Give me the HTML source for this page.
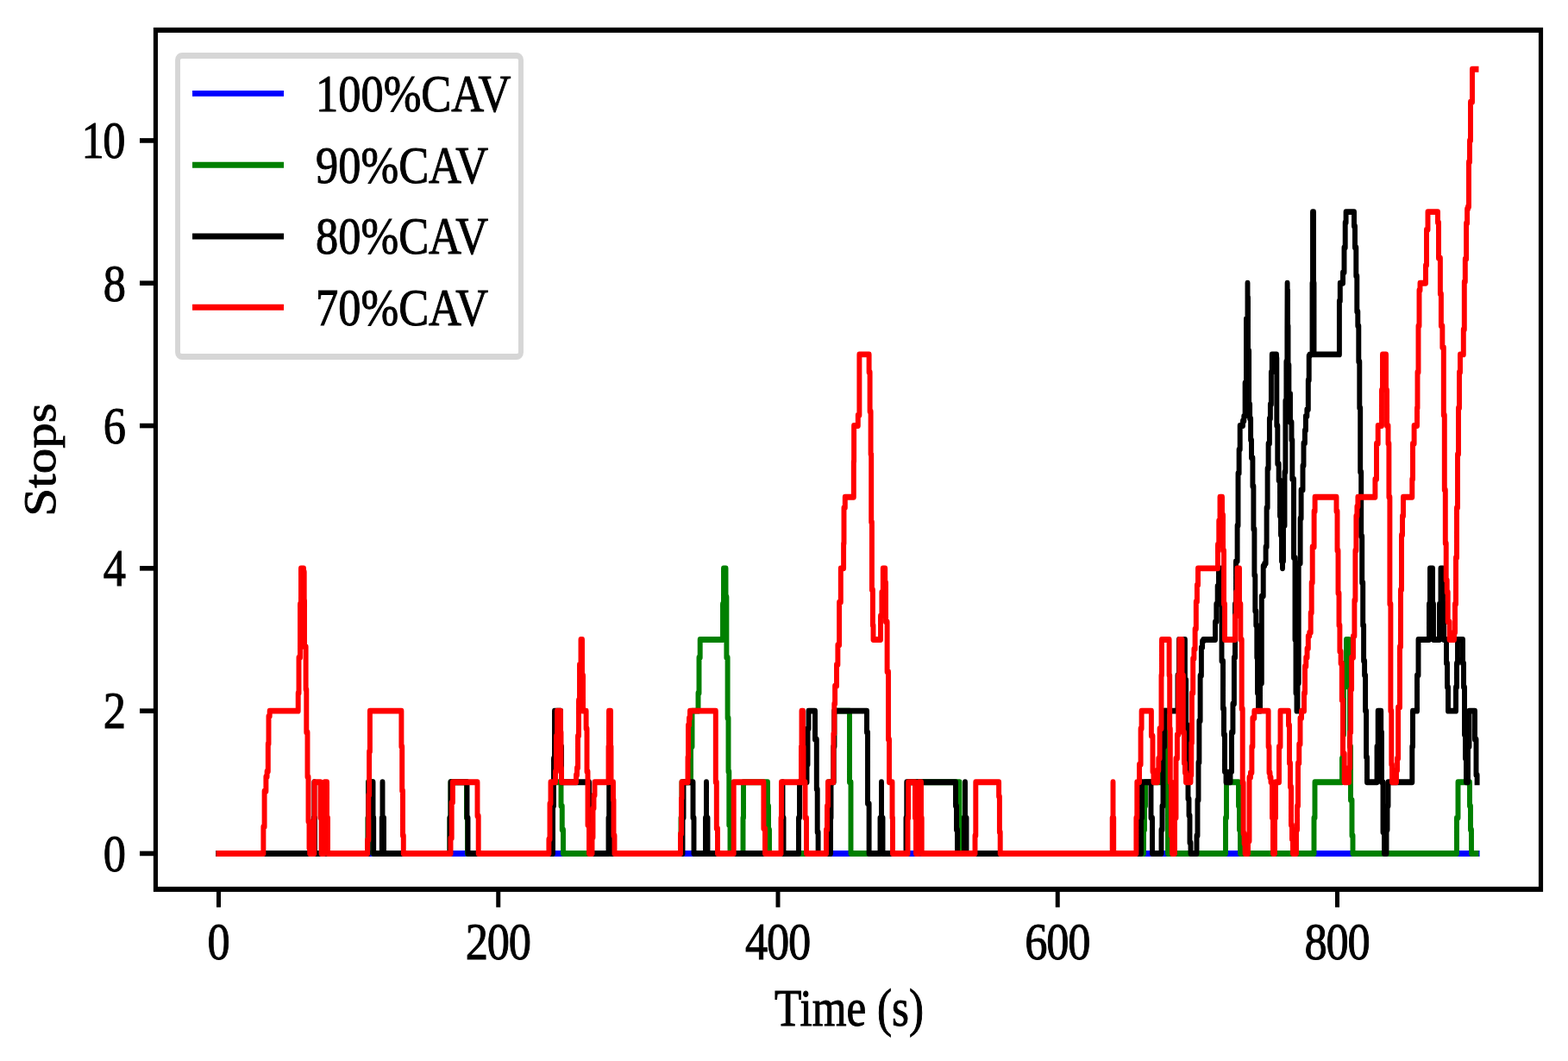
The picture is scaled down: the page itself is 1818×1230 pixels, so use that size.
<!DOCTYPE html>
<html><head><meta charset="utf-8"><title>Stops vs Time</title>
<style>html,body{margin:0;padding:0;background:#fff;overflow:hidden}svg{display:block}</style></head><body>
<svg width="1818" height="1230" viewBox="0 0 1818 1230">
<rect x="0" y="0" width="1818" height="1230" fill="#ffffff"/>
<g transform="scale(0.86,1)">
<g fill="none" stroke-width="6.9" stroke-linejoin="round" stroke-linecap="square">
<polyline stroke="#0000ff" points="294.77,989.45 1991.40,989.45"/>
<polyline stroke="#008000" points="294.77,989.45 495.93,989.45 495.93,948.12 496.51,948.12 496.51,906.80 502.33,906.80 502.33,948.12 503.49,948.12 503.49,989.45 606.40,989.45 606.40,948.12 607.56,948.12 607.56,906.80 629.07,906.80 629.07,948.12 630.23,948.12 630.23,989.45 744.19,989.45 744.19,948.12 745.35,948.12 745.35,906.80 756.40,906.80 756.40,934.35 757.85,934.35 757.85,961.90 759.30,961.90 759.30,989.45 918.02,989.45 918.02,948.12 919.19,948.12 919.19,906.80 931.40,906.80 931.40,865.48 933.14,865.48 933.14,824.15 941.28,824.15 941.28,803.49 942.44,803.49 942.44,782.83 942.44,762.16 943.84,762.16 943.84,741.50 974.42,741.50 974.42,700.17 975.58,700.17 975.58,658.85 978.49,658.85 978.49,691.91 979.53,691.91 979.53,724.97 979.53,762.16 980.93,762.16 980.93,799.36 980.93,832.42 981.98,832.42 981.98,865.48 981.98,894.40 982.91,894.40 982.91,923.33 982.91,956.39 984.30,956.39 984.30,989.45 1001.74,989.45 1001.74,948.12 1002.33,948.12 1002.33,906.80 1034.88,906.80 1034.88,934.35 1036.05,934.35 1036.05,961.90 1037.21,961.90 1037.21,989.45 1115.70,989.45 1115.70,948.12 1116.86,948.12 1116.86,906.80 1123.72,906.80 1123.72,865.48 1124.77,865.48 1124.77,824.15 1143.02,824.15 1145.35,824.15 1145.35,906.80 1147.09,906.80 1147.09,989.45 1223.26,989.45 1223.26,948.12 1224.42,948.12 1224.42,906.80 1293.60,906.80 1293.60,948.12 1295.35,948.12 1295.35,989.45 1541.86,989.45 1541.86,961.90 1543.02,961.90 1543.02,934.35 1544.19,934.35 1544.19,906.80 1566.28,906.80 1566.28,865.48 1568.02,865.48 1568.02,824.15 1572.09,824.15 1572.09,879.25 1573.26,879.25 1573.26,934.35 1574.42,934.35 1574.42,989.45 1652.33,989.45 1652.33,948.12 1653.49,948.12 1653.49,906.80 1669.77,906.80 1669.77,934.35 1670.93,934.35 1670.93,961.90 1672.09,961.90 1672.09,989.45 1771.51,989.45 1771.51,948.12 1772.67,948.12 1772.67,906.80 1809.30,906.80 1809.30,879.25 1810.47,879.25 1810.47,851.70 1811.63,851.70 1811.63,824.15 1811.63,796.60 1813.37,796.60 1813.37,769.05 1815.12,769.05 1815.12,741.50 1818.60,741.50 1818.60,782.83 1819.77,782.83 1819.77,824.15 1819.77,865.48 1820.93,865.48 1820.93,906.80 1820.93,927.46 1822.67,927.46 1822.67,948.12 1822.67,968.79 1823.84,968.79 1823.84,989.45 1963.95,989.45 1963.95,948.12 1965.70,948.12 1965.70,906.80 1981.40,906.80 1981.40,934.35 1982.56,934.35 1982.56,961.90 1983.72,961.90 1983.72,989.45 1990.12,989.45"/>
<polyline stroke="#000000" points="294.77,989.45 423.02,989.45 423.02,948.12 423.72,948.12 423.72,906.80 423.72,948.12 424.42,948.12 424.42,989.45 496.28,989.45 496.28,948.12 496.86,948.12 496.86,906.80 502.91,906.80 502.91,948.12 503.72,948.12 503.72,989.45 514.88,989.45 514.88,948.12 515.70,948.12 515.70,906.80 515.70,948.12 517.44,948.12 517.44,989.45 606.40,989.45 606.40,948.12 607.56,948.12 607.56,906.80 629.65,906.80 629.65,948.12 630.81,948.12 630.81,989.45 745.35,989.45 745.35,934.35 746.51,934.35 746.51,879.25 747.67,879.25 747.67,824.15 755.81,824.15 755.81,865.48 756.98,865.48 756.98,906.80 794.19,906.80 794.19,948.12 795.93,948.12 795.93,989.45 820.35,989.45 820.35,948.12 821.16,948.12 821.16,906.80 822.67,906.80 822.67,948.12 823.84,948.12 823.84,989.45 920.35,989.45 920.35,948.12 921.51,948.12 921.51,906.80 934.30,906.80 934.30,948.12 935.47,948.12 935.47,989.45 951.16,989.45 951.16,948.12 952.33,948.12 952.33,906.80 952.33,948.12 954.07,948.12 954.07,989.45 1054.07,989.45 1054.07,948.12 1055.23,948.12 1055.23,906.80 1055.23,948.12 1056.40,948.12 1056.40,989.45 1076.74,989.45 1076.74,948.12 1077.91,948.12 1077.91,906.80 1087.79,906.80 1087.79,886.14 1088.95,886.14 1088.95,865.48 1088.95,844.81 1090.12,844.81 1090.12,824.15 1098.84,824.15 1098.84,857.21 1100.93,857.21 1100.93,890.27 1100.93,915.07 1101.98,915.07 1101.98,939.86 1101.98,964.66 1103.02,964.66 1103.02,989.45 1119.77,989.45 1119.77,948.12 1120.35,948.12 1120.35,906.80 1123.84,906.80 1123.84,865.48 1124.77,865.48 1124.77,824.15 1168.60,824.15 1168.60,848.95 1169.77,848.95 1169.77,873.74 1169.77,931.60 1171.63,931.60 1171.63,989.45 1186.63,989.45 1186.63,948.12 1188.37,948.12 1188.37,906.80 1188.37,948.12 1190.12,948.12 1190.12,989.45 1221.51,989.45 1221.51,948.12 1222.44,948.12 1222.44,906.80 1288.37,906.80 1288.37,934.35 1289.53,934.35 1289.53,961.90 1290.70,961.90 1290.70,989.45 1300.00,989.45 1300.00,948.12 1301.16,948.12 1301.16,906.80 1301.16,948.12 1302.91,948.12 1302.91,989.45 1538.37,989.45 1538.37,948.12 1539.53,948.12 1539.53,906.80 1551.74,906.80 1551.74,948.12 1553.49,948.12 1553.49,989.45 1565.70,989.45 1565.70,961.90 1566.86,961.90 1566.86,934.35 1568.02,934.35 1568.02,906.80 1568.02,865.48 1569.88,865.48 1569.88,824.15 1587.79,824.15 1587.79,782.83 1589.53,782.83 1589.53,741.50 1597.56,741.50 1597.56,766.30 1597.56,788.20 1598.95,788.20 1598.95,810.10 1598.95,840.27 1600.35,840.27 1600.35,870.43 1600.35,888.62 1601.74,888.62 1601.74,906.80 1601.74,926.09 1602.91,926.09 1602.91,945.37 1604.07,945.37 1604.07,964.66 1604.07,977.05 1605.23,977.05 1605.23,989.45 1613.37,989.45 1613.37,968.79 1614.53,968.79 1614.53,948.12 1614.53,927.46 1615.70,927.46 1615.70,906.80 1615.70,884.07 1616.74,884.07 1616.74,861.34 1616.74,835.72 1618.14,835.72 1618.14,810.10 1618.14,783.24 1619.65,783.24 1619.65,756.38 1619.65,750.59 1621.05,750.59 1621.05,744.81 1621.05,743.15 1622.44,743.15 1622.44,741.50 1638.37,741.50 1638.37,720.84 1639.92,720.84 1639.92,700.17 1641.47,700.17 1641.47,679.51 1643.02,679.51 1643.02,658.85 1645.35,658.85 1645.35,700.17 1647.09,700.17 1647.09,741.50 1647.09,766.30 1648.84,766.30 1648.84,791.09 1648.84,821.39 1650.00,821.39 1650.00,851.70 1651.16,851.70 1651.16,882.00 1651.16,894.40 1652.91,894.40 1652.91,906.80 1658.72,906.80 1658.72,894.40 1660.47,894.40 1660.47,882.00 1660.47,848.95 1662.15,848.95 1662.15,815.88 1663.84,815.88 1663.84,782.83 1663.84,762.16 1665.12,762.16 1665.12,741.50 1665.12,700.17 1666.28,700.17 1666.28,658.85 1666.28,650.59 1668.14,650.59 1668.14,642.32 1668.14,609.26 1669.19,609.26 1669.19,576.20 1669.19,548.65 1670.47,548.65 1670.47,521.10 1671.74,521.10 1671.74,493.55 1675.58,493.55 1675.58,488.04 1677.09,488.04 1677.09,482.53 1678.60,482.53 1678.60,477.02 1678.60,443.96 1680.23,443.96 1680.23,410.90 1680.23,369.58 1681.98,369.58 1681.98,328.25 1681.98,344.78 1682.56,344.78 1682.56,361.31 1682.56,406.77 1683.84,406.77 1683.84,452.23 1683.84,468.75 1685.00,468.75 1685.00,485.28 1686.16,485.28 1686.16,501.81 1686.16,510.08 1687.21,510.08 1687.21,518.35 1687.21,530.74 1688.84,530.74 1688.84,543.14 1688.84,563.80 1690.00,563.80 1690.00,584.46 1690.00,613.39 1691.16,613.39 1691.16,642.32 1691.16,667.12 1692.21,667.12 1692.21,691.91 1692.21,708.44 1693.37,708.44 1693.37,724.97 1694.53,724.97 1694.53,741.50 1694.53,762.16 1695.35,762.16 1695.35,782.83 1695.35,803.49 1696.51,803.49 1696.51,824.15 1698.84,824.15 1698.84,791.92 1700.93,791.92 1700.93,759.68 1700.93,723.32 1700.93,691.08 1703.14,691.08 1703.14,658.85 1703.14,656.10 1704.83,656.10 1704.83,653.34 1706.51,653.34 1706.51,650.59 1706.51,634.06 1707.67,634.06 1707.67,617.53 1707.67,588.60 1708.84,588.60 1708.84,559.67 1708.84,543.14 1710.00,543.14 1710.00,526.61 1710.00,514.21 1711.51,514.21 1711.51,501.81 1711.51,485.28 1712.67,485.28 1712.67,468.75 1713.84,468.75 1713.84,452.23 1713.84,431.56 1714.88,431.56 1714.88,410.90 1720.93,410.90 1720.93,415.03 1721.28,415.03 1721.28,419.16 1721.28,468.75 1721.28,493.55 1722.44,493.55 1722.44,518.35 1722.44,537.63 1724.01,537.63 1724.01,556.91 1725.58,556.91 1725.58,576.20 1725.58,598.24 1726.74,598.24 1726.74,620.28 1727.91,620.28 1727.91,642.32 1727.91,650.59 1729.07,650.59 1729.07,658.85 1729.07,650.59 1730.23,650.59 1730.23,642.32 1730.23,609.26 1731.98,609.26 1731.98,576.20 1731.98,547.27 1733.02,547.27 1733.02,518.35 1733.02,477.02 1733.02,464.62 1734.19,464.62 1734.19,452.23 1734.19,419.16 1735.35,419.16 1735.35,386.11 1735.58,328.25 1735.58,336.51 1736.05,336.51 1736.05,344.78 1736.05,377.84 1736.63,377.84 1736.63,410.90 1736.63,423.30 1737.67,423.30 1737.67,435.69 1737.67,456.36 1739.53,456.36 1739.53,477.02 1739.53,489.42 1741.28,489.42 1741.28,501.81 1741.28,510.08 1742.21,510.08 1742.21,518.35 1742.21,555.54 1744.19,555.54 1744.19,592.73 1744.19,646.45 1745.93,646.45 1745.93,700.17 1745.93,741.50 1747.09,741.50 1747.09,782.83 1747.09,803.49 1748.26,803.49 1748.26,824.15 1749.42,824.15 1749.42,791.92 1750.81,791.92 1750.81,759.68 1750.81,680.34 1750.81,653.06 1753.02,653.06 1753.02,625.79 1753.02,601.00 1754.19,601.00 1754.19,576.20 1754.19,567.94 1756.40,567.94 1756.40,559.67 1756.40,539.83 1757.56,539.83 1757.56,520.00 1757.56,513.80 1759.19,513.80 1759.19,507.60 1759.19,498.92 1760.35,498.92 1760.35,490.24 1760.35,482.53 1762.03,482.53 1762.03,474.82 1763.72,474.82 1763.72,467.10 1763.72,440.65 1764.77,440.65 1764.77,414.21 1764.77,412.55 1765.93,412.55 1765.93,410.90 1769.19,410.90 1769.19,328.25 1769.77,328.25 1769.77,245.60 1770.93,245.60 1770.93,328.25 1771.51,328.25 1771.51,410.90 1805.70,410.90 1805.70,369.58 1805.70,348.91 1806.74,348.91 1806.74,328.25 1810.47,328.25 1810.47,315.85 1812.21,315.85 1812.21,303.45 1812.21,286.92 1813.60,286.92 1813.60,270.40 1813.60,258.00 1814.65,258.00 1814.65,245.60 1825.58,245.60 1825.58,262.13 1826.74,262.13 1826.74,278.66 1826.74,286.92 1828.26,286.92 1828.26,295.19 1828.26,319.99 1829.42,319.99 1829.42,344.78 1829.42,361.31 1830.58,361.31 1830.58,377.84 1831.74,377.84 1831.74,394.37 1831.74,419.16 1832.91,419.16 1832.91,443.96 1832.91,472.89 1833.95,472.89 1833.95,501.81 1833.95,547.27 1835.12,547.27 1835.12,592.73 1835.12,621.66 1836.28,621.66 1836.28,650.59 1836.28,675.38 1837.44,675.38 1837.44,700.17 1837.44,724.97 1838.49,724.97 1838.49,749.77 1838.49,766.30 1839.65,766.30 1839.65,782.83 1840.81,782.83 1840.81,799.36 1840.81,824.15 1841.98,824.15 1841.98,848.95 1841.98,877.87 1843.02,877.87 1843.02,906.80 1856.40,906.80 1856.40,865.48 1857.79,865.48 1857.79,824.15 1861.86,824.15 1861.86,848.95 1862.79,848.95 1862.79,873.74 1862.79,906.80 1864.53,906.80 1864.53,939.86 1864.53,964.66 1866.28,964.66 1866.28,989.45 1869.19,989.45 1869.19,961.90 1870.35,961.90 1870.35,934.35 1871.51,934.35 1871.51,906.80 1903.84,906.80 1903.84,865.48 1904.65,865.48 1904.65,824.15 1910.47,824.15 1910.47,782.83 1912.21,782.83 1912.21,741.50 1926.74,741.50 1926.74,700.17 1927.91,700.17 1927.91,658.85 1931.40,658.85 1931.40,700.17 1932.56,700.17 1932.56,741.50 1940.70,741.50 1940.70,700.17 1942.44,700.17 1942.44,658.85 1945.35,658.85 1945.35,700.17 1946.51,700.17 1946.51,741.50 1950.00,741.50 1950.00,769.05 1951.16,769.05 1951.16,796.60 1952.33,796.60 1952.33,824.15 1962.79,824.15 1962.79,796.60 1963.95,796.60 1963.95,769.05 1965.12,769.05 1965.12,741.50 1972.09,741.50 1972.09,769.05 1973.26,769.05 1973.26,796.60 1974.42,796.60 1974.42,824.15 1974.42,851.70 1975.58,851.70 1975.58,879.25 1976.74,879.25 1976.74,906.80 1979.07,906.80 1979.07,865.48 1980.81,865.48 1980.81,824.15 1988.37,824.15 1988.37,857.21 1990.12,857.21 1990.12,890.27 1990.12,898.54 1991.40,898.54 1991.40,906.80"/>
<polyline stroke="#ff0000" points="294.77,989.45 355.12,989.45 355.12,958.46 356.51,958.46 356.51,927.46 356.51,917.13 358.60,917.13 358.60,906.80 358.60,900.46 360.00,900.46 360.00,894.13 361.40,894.13 361.40,887.79 361.40,862.17 362.21,862.17 362.21,836.55 362.21,830.35 363.60,830.35 363.60,824.15 401.98,824.15 401.98,803.49 402.91,803.49 402.91,782.83 402.91,762.16 404.65,762.16 404.65,741.50 404.65,700.17 405.81,700.17 405.81,658.85 409.30,658.85 409.30,662.98 410.12,662.98 410.12,667.12 410.12,696.04 410.47,696.04 410.47,724.97 410.47,749.76 412.33,749.76 412.33,774.56 412.33,799.36 413.14,799.36 413.14,824.15 413.14,848.95 414.53,848.95 414.53,873.74 414.53,900.60 415.70,900.60 415.70,927.46 415.70,952.26 416.86,952.26 416.86,977.05 416.86,983.25 417.67,983.25 417.67,989.45 423.60,989.45 423.60,948.12 423.95,948.12 423.95,906.80 431.98,906.80 431.98,948.12 433.26,948.12 433.26,989.45 437.21,989.45 437.21,948.12 437.79,948.12 437.79,906.80 440.70,906.80 440.70,948.12 441.86,948.12 441.86,989.45 495.47,989.45 495.47,973.75 496.86,973.75 496.86,921.68 497.79,921.68 497.79,871.26 498.72,871.26 498.72,824.15 541.16,824.15 541.16,865.48 542.09,865.48 542.09,916.72 543.02,916.72 543.02,968.79 543.95,968.79 543.95,989.45 607.56,989.45 607.56,971.68 608.95,971.68 608.95,953.91 608.95,930.36 610.35,930.36 610.35,906.80 643.60,906.80 643.60,939.86 643.60,946.06 645.00,946.06 645.00,952.26 645.00,989.45 740.00,989.45 740.00,972.92 741.28,972.92 741.28,956.39 741.28,931.60 742.44,931.60 742.44,906.80 748.84,906.80 748.84,894.40 750.00,894.40 750.00,882.00 750.00,853.08 751.16,853.08 751.16,824.15 755.81,824.15 755.81,848.95 756.40,848.95 756.40,873.74 756.40,890.27 756.98,890.27 756.98,906.80 776.74,906.80 776.74,898.54 777.91,898.54 777.91,890.27 779.07,890.27 779.07,882.00 779.07,853.08 780.23,853.08 780.23,824.15 780.23,811.75 781.40,811.75 781.40,799.36 781.40,770.43 783.14,770.43 783.14,741.50 784.88,741.50 784.88,782.83 786.05,782.83 786.05,824.15 790.23,824.15 790.23,844.81 791.28,844.81 791.28,865.48 791.28,894.40 792.44,894.40 792.44,923.33 792.44,956.39 794.19,956.39 794.19,989.45 798.26,989.45 798.26,970.85 799.42,970.85 799.42,952.26 799.42,937.11 800.58,937.11 800.58,921.95 801.74,921.95 801.74,906.80 820.35,906.80 820.35,865.48 820.93,865.48 820.93,824.15 823.26,824.15 823.26,865.48 823.84,865.48 823.84,906.80 826.74,906.80 826.74,927.46 827.33,927.46 827.33,948.12 827.33,968.79 828.49,968.79 828.49,989.45 917.44,989.45 917.44,966.72 918.60,966.72 918.60,943.99 918.60,925.40 919.19,925.40 919.19,906.80 927.33,906.80 927.33,877.87 927.91,877.87 927.91,848.95 927.91,840.68 929.07,840.68 929.07,832.42 930.23,832.42 930.23,824.15 964.88,824.15 964.88,882.00 964.88,906.80 966.05,906.80 966.05,931.60 966.05,960.52 967.44,960.52 967.44,989.45 989.19,989.45 989.19,906.80 1029.53,906.80 1029.53,931.60 1029.53,960.52 1031.40,960.52 1031.40,989.45 1052.91,989.45 1052.91,948.12 1053.49,948.12 1053.49,906.80 1080.23,906.80 1080.23,865.48 1080.81,865.48 1080.81,824.15 1082.56,824.15 1082.56,865.48 1083.14,865.48 1083.14,906.80 1085.47,906.80 1085.47,948.12 1087.21,948.12 1087.21,989.45 1113.95,989.45 1113.95,961.90 1115.12,961.90 1115.12,934.35 1116.28,934.35 1116.28,906.80 1123.72,906.80 1123.72,877.05 1123.72,850.60 1124.77,850.60 1124.77,824.15 1124.77,815.88 1125.70,815.88 1125.70,807.62 1125.70,795.22 1127.91,795.22 1127.91,782.83 1127.91,770.43 1129.53,770.43 1129.53,758.03 1129.53,747.70 1131.51,747.70 1131.51,737.37 1131.51,698.11 1133.49,698.11 1133.49,658.85 1137.33,658.85 1137.33,629.92 1137.79,629.92 1137.79,601.00 1137.79,588.60 1139.30,588.60 1139.30,576.20 1150.93,576.20 1150.93,534.88 1151.28,534.88 1151.28,493.55 1156.74,493.55 1156.74,481.15 1158.60,481.15 1158.60,468.75 1158.60,410.90 1171.63,410.90 1171.63,431.56 1172.79,431.56 1172.79,452.23 1172.79,477.02 1173.95,477.02 1173.95,501.81 1173.95,526.61 1174.65,526.61 1174.65,551.40 1174.65,605.13 1175.47,605.13 1175.47,658.85 1175.47,683.64 1176.63,683.64 1176.63,708.44 1176.63,724.97 1177.33,724.97 1177.33,741.50 1187.21,741.50 1187.21,713.95 1188.84,713.95 1188.84,686.40 1190.47,686.40 1190.47,658.85 1193.26,658.85 1193.26,675.38 1194.19,675.38 1194.19,691.91 1194.19,720.84 1196.05,720.84 1196.05,749.77 1196.05,778.69 1197.67,778.69 1197.67,807.62 1197.67,857.21 1198.84,857.21 1198.84,906.80 1202.91,906.80 1202.91,948.12 1203.49,948.12 1203.49,989.45 1223.84,989.45 1223.84,948.12 1224.65,948.12 1224.65,906.80 1233.72,906.80 1233.72,948.12 1234.88,948.12 1234.88,989.45 1238.37,989.45 1238.37,948.12 1238.95,948.12 1238.95,906.80 1241.86,906.80 1241.86,948.12 1242.67,948.12 1242.67,989.45 1314.53,989.45 1314.53,968.79 1315.47,968.79 1315.47,948.12 1315.47,906.80 1346.63,906.80 1346.63,923.33 1347.56,923.33 1347.56,939.86 1347.56,964.66 1348.49,964.66 1348.49,989.45 1499.65,989.45 1499.65,948.12 1500.58,948.12 1500.58,906.80 1500.58,948.12 1501.40,948.12 1501.40,989.45 1531.86,989.45 1531.86,948.12 1532.91,948.12 1532.91,906.80 1536.05,906.80 1536.05,886.14 1537.91,886.14 1537.91,865.48 1537.91,844.81 1539.07,844.81 1539.07,824.15 1552.21,824.15 1552.21,853.08 1554.07,853.08 1554.07,882.00 1554.07,894.40 1555.23,894.40 1555.23,906.80 1560.47,906.80 1560.47,893.03 1561.98,893.03 1561.98,879.25 1563.49,879.25 1563.49,865.48 1563.49,844.81 1565.70,844.81 1565.70,824.15 1565.70,782.83 1566.28,782.83 1566.28,741.50 1576.28,741.50 1576.28,782.83 1576.98,782.83 1576.98,824.15 1576.98,844.81 1577.67,844.81 1577.67,865.48 1577.67,906.80 1579.07,906.80 1579.07,948.12 1579.07,968.79 1580.23,968.79 1580.23,989.45 1583.72,989.45 1583.72,948.12 1585.47,948.12 1585.47,906.80 1585.47,879.25 1587.09,879.25 1587.09,851.70 1588.72,851.70 1588.72,824.15 1588.72,782.83 1590.12,782.83 1590.12,741.50 1593.60,741.50 1593.60,782.83 1595.12,782.83 1595.12,824.15 1595.12,848.95 1596.51,848.95 1596.51,873.74 1596.51,884.76 1597.67,884.76 1597.67,895.78 1598.84,895.78 1598.84,906.80 1605.23,906.80 1605.23,898.54 1606.16,898.54 1606.16,890.27 1606.16,861.34 1606.86,861.34 1606.86,832.42 1606.86,803.49 1608.37,803.49 1608.37,774.56 1608.37,763.54 1609.77,763.54 1609.77,752.52 1611.16,752.52 1611.16,741.50 1611.16,729.10 1612.56,729.10 1612.56,716.71 1612.56,697.42 1613.84,697.42 1613.84,678.13 1615.12,678.13 1615.12,658.85 1641.86,658.85 1641.86,631.30 1643.31,631.30 1643.31,603.75 1644.77,603.75 1644.77,576.20 1647.67,576.20 1647.67,596.86 1648.84,596.86 1648.84,617.53 1648.84,638.19 1650.00,638.19 1650.00,658.85 1650.00,700.17 1651.16,700.17 1651.16,741.50 1665.12,741.50 1665.12,713.95 1666.57,713.95 1666.57,686.40 1668.02,686.40 1668.02,658.85 1670.93,658.85 1670.93,700.17 1672.50,700.17 1672.50,741.50 1674.07,741.50 1674.07,782.83 1674.07,821.67 1675.23,821.67 1675.23,860.52 1675.23,907.63 1676.28,907.63 1676.28,954.74 1676.28,966.31 1677.44,966.31 1677.44,977.88 1678.60,977.88 1678.60,989.45 1682.56,989.45 1682.56,974.99 1684.30,974.99 1684.30,960.52 1684.30,906.80 1684.30,901.29 1685.99,901.29 1685.99,895.78 1687.67,895.78 1687.67,890.27 1687.67,865.48 1688.84,865.48 1688.84,840.68 1688.84,832.42 1691.05,832.42 1691.05,824.15 1710.00,824.15 1710.00,840.68 1710.00,865.48 1711.05,865.48 1711.05,890.27 1711.05,895.78 1712.21,895.78 1712.21,901.29 1713.37,901.29 1713.37,906.80 1715.12,906.80 1715.12,948.12 1716.28,948.12 1716.28,989.45 1718.60,989.45 1718.60,948.12 1719.77,948.12 1719.77,906.80 1724.42,906.80 1724.42,865.48 1726.16,865.48 1726.16,824.15 1737.21,824.15 1737.21,840.68 1738.37,840.68 1738.37,857.21 1738.37,884.76 1739.53,884.76 1739.53,912.31 1740.70,912.31 1740.70,939.86 1740.70,956.39 1741.86,956.39 1741.86,972.92 1743.02,972.92 1743.02,989.45 1747.67,989.45 1747.67,961.90 1748.84,961.90 1748.84,934.35 1750.00,934.35 1750.00,906.80 1750.00,884.76 1751.45,884.76 1751.45,862.72 1752.91,862.72 1752.91,840.68 1752.91,832.42 1754.65,832.42 1754.65,824.15 1758.14,824.15 1758.14,803.49 1759.30,803.49 1759.30,782.83 1759.30,772.49 1760.78,772.49 1760.78,762.16 1762.25,762.16 1762.25,751.83 1763.72,751.83 1763.72,741.50 1763.72,737.37 1765.41,737.37 1765.41,733.24 1767.09,733.24 1767.09,729.10 1767.09,710.51 1768.26,710.51 1768.26,691.91 1768.26,675.38 1769.42,675.38 1769.42,658.85 1769.42,634.06 1771.63,634.06 1771.63,609.26 1771.63,592.73 1772.79,592.73 1772.79,576.20 1801.74,576.20 1801.74,592.73 1802.91,592.73 1802.91,609.26 1802.91,638.19 1804.07,638.19 1804.07,667.12 1804.07,687.78 1805.23,687.78 1805.23,708.44 1805.23,724.97 1806.28,724.97 1806.28,741.50 1806.28,755.27 1807.67,755.27 1807.67,769.05 1809.07,769.05 1809.07,782.83 1809.07,811.75 1810.47,811.75 1810.47,840.68 1810.47,873.74 1812.44,873.74 1812.44,906.80 1818.60,906.80 1818.60,890.27 1820.00,890.27 1820.00,873.74 1820.00,848.95 1821.05,848.95 1821.05,824.15 1821.05,799.36 1822.21,799.36 1822.21,774.56 1822.21,762.16 1824.42,762.16 1824.42,749.77 1824.42,737.37 1826.05,737.37 1826.05,724.97 1826.05,696.04 1827.21,696.04 1827.21,667.12 1827.21,638.19 1828.37,638.19 1828.37,609.26 1828.37,598.24 1829.53,598.24 1829.53,587.22 1830.70,587.22 1830.70,576.20 1853.95,576.20 1853.95,555.54 1855.81,555.54 1855.81,534.88 1855.81,514.21 1857.79,514.21 1857.79,493.55 1862.79,493.55 1862.79,452.23 1863.95,452.23 1863.95,410.90 1868.60,410.90 1868.60,452.23 1869.77,452.23 1869.77,493.55 1871.51,493.55 1871.51,514.21 1872.56,514.21 1872.56,534.88 1872.56,576.20 1873.72,576.20 1873.72,617.53 1873.72,700.17 1874.88,700.17 1874.88,782.83 1874.88,824.15 1875.93,824.15 1875.93,865.48 1875.93,886.14 1876.74,886.14 1876.74,906.80 1882.56,906.80 1882.56,893.03 1883.78,893.03 1883.78,879.25 1885.00,879.25 1885.00,865.48 1885.00,820.02 1887.21,820.02 1887.21,774.56 1887.21,749.76 1888.37,749.76 1888.37,724.97 1888.37,683.64 1889.53,683.64 1889.53,642.32 1889.53,620.28 1890.70,620.28 1890.70,598.24 1891.86,598.24 1891.86,576.20 1903.84,576.20 1903.84,555.54 1904.65,555.54 1904.65,534.88 1904.65,514.21 1906.51,514.21 1906.51,493.55 1910.47,493.55 1910.47,472.89 1911.05,472.89 1911.05,452.23 1911.05,431.56 1912.21,431.56 1912.21,410.90 1912.21,377.84 1913.37,377.84 1913.37,344.78 1913.37,336.51 1914.53,336.51 1914.53,328.25 1922.09,328.25 1922.09,307.59 1923.26,307.59 1923.26,286.92 1923.26,266.26 1925.00,266.26 1925.00,245.60 1938.37,245.60 1938.37,258.00 1939.53,258.00 1939.53,270.40 1939.53,299.32 1941.74,299.32 1941.74,328.25 1941.74,340.65 1942.91,340.65 1942.91,353.04 1942.91,377.84 1944.59,377.84 1944.59,402.63 1946.28,402.63 1946.28,427.43 1946.28,481.15 1947.44,481.15 1947.44,534.88 1947.44,567.94 1948.60,567.94 1948.60,601.00 1948.60,629.92 1949.65,629.92 1949.65,658.85 1949.65,672.62 1950.81,672.62 1950.81,686.40 1951.98,686.40 1951.98,700.17 1951.98,720.84 1954.19,720.84 1954.19,741.50 1960.47,741.50 1960.47,733.24 1961.63,733.24 1961.63,724.97 1961.63,700.17 1962.79,700.17 1962.79,675.38 1962.79,646.45 1963.95,646.45 1963.95,617.53 1963.95,588.60 1965.12,588.60 1965.12,559.67 1965.12,526.61 1966.28,526.61 1966.28,493.55 1966.28,472.89 1967.44,472.89 1967.44,452.23 1967.44,431.56 1968.60,431.56 1968.60,410.90 1973.02,410.90 1973.02,381.97 1974.19,381.97 1974.19,353.04 1974.19,326.60 1975.35,326.60 1975.35,300.15 1976.86,300.15 1976.86,258.82 1978.02,258.82 1978.02,242.29 1979.07,242.29 1979.07,239.81 1980.23,239.81 1980.23,187.75 1981.40,187.75 1981.40,162.95 1982.56,162.95 1982.56,118.32 1984.88,118.32 1984.88,80.30 1990.12,80.30"/>
</g>
<rect x="209.83" y="34.9" width="1867.50" height="996.00" fill="none" stroke="#000" stroke-width="6" stroke-linejoin="miter"/>
<line x1="294.77" y1="1030.90" x2="294.77" y2="1051.8" stroke="#000" stroke-width="5.8"/>
<line x1="671.80" y1="1030.90" x2="671.80" y2="1051.8" stroke="#000" stroke-width="5.8"/>
<line x1="1048.84" y1="1030.90" x2="1048.84" y2="1051.8" stroke="#000" stroke-width="5.8"/>
<line x1="1425.87" y1="1030.90" x2="1425.87" y2="1051.8" stroke="#000" stroke-width="5.8"/>
<line x1="1802.91" y1="1030.90" x2="1802.91" y2="1051.8" stroke="#000" stroke-width="5.8"/>
<line x1="188.37" y1="989.45" x2="209.83" y2="989.45" stroke="#000" stroke-width="5.6"/>
<line x1="188.37" y1="824.15" x2="209.83" y2="824.15" stroke="#000" stroke-width="5.6"/>
<line x1="188.37" y1="658.85" x2="209.83" y2="658.85" stroke="#000" stroke-width="5.6"/>
<line x1="188.37" y1="493.55" x2="209.83" y2="493.55" stroke="#000" stroke-width="5.6"/>
<line x1="188.37" y1="328.25" x2="209.83" y2="328.25" stroke="#000" stroke-width="5.6"/>
<line x1="188.37" y1="162.95" x2="209.83" y2="162.95" stroke="#000" stroke-width="5.6"/>
<g font-family='"Liberation Serif", "Times New Roman", serif' font-size="61" fill="#000" stroke="#000" stroke-width="1.0">
<text x="294.77" y="1112.5" text-anchor="middle">0</text>
<text x="671.16" y="1112.5" text-anchor="middle" letter-spacing="-1.5">200</text>
<text x="1048.20" y="1112.5" text-anchor="middle" letter-spacing="-1.5">400</text>
<text x="1425.23" y="1112.5" text-anchor="middle" letter-spacing="-1.5">600</text>
<text x="1802.27" y="1112.5" text-anchor="middle" letter-spacing="-1.5">800</text>
<text x="169.77" y="1009.75" text-anchor="end">0</text>
<text x="169.77" y="844.45" text-anchor="end">2</text>
<text x="169.77" y="679.15" text-anchor="end">4</text>
<text x="169.77" y="513.85" text-anchor="end">6</text>
<text x="169.77" y="348.55" text-anchor="end">8</text>
<text x="167.79" y="183.25" text-anchor="end" letter-spacing="-1.5">10</text>
<text transform="translate(1144.77,1188.9) scale(0.976,1)" text-anchor="middle">Time (s)</text>
<text transform="translate(74.42,532.9) rotate(-90) scale(0.97,1)" text-anchor="middle">Stops</text>
</g>
<rect x="239.59" y="64.45" width="462.73" height="349.05" rx="5.8" ry="5" fill="#fff" stroke="#d6d6d6" stroke-width="6.9"/>
<g font-family='"Liberation Serif", "Times New Roman", serif' font-size="61" fill="#000" stroke="#000" stroke-width="1.0">
<line x1="262.79" y1="108.4" x2="379.19" y2="108.4" stroke="#0000ff" stroke-width="6.9" stroke-linecap="square"/>
<text x="425.58" y="128.90" stroke="#000">100%CAV</text>
<line x1="262.79" y1="191.2" x2="379.19" y2="191.2" stroke="#008000" stroke-width="6.9" stroke-linecap="square"/>
<text x="425.58" y="211.70" stroke="#000">90%CAV</text>
<line x1="262.79" y1="274.0" x2="379.19" y2="274.0" stroke="#000000" stroke-width="6.9" stroke-linecap="square"/>
<text x="425.58" y="294.50" stroke="#000">80%CAV</text>
<line x1="262.79" y1="356.2" x2="379.19" y2="356.2" stroke="#ff0000" stroke-width="6.9" stroke-linecap="square"/>
<text x="425.58" y="376.70" stroke="#000">70%CAV</text>
</g>
</g></svg></body></html>
